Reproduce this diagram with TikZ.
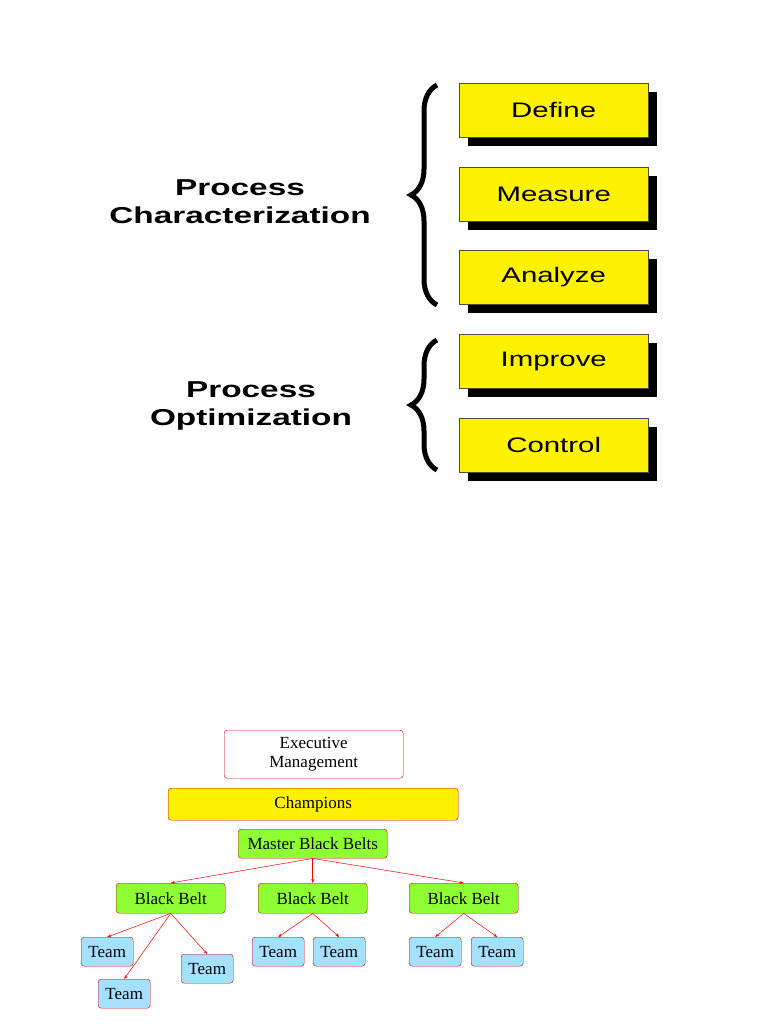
\documentclass[tikz,border=0pt]{standalone}
\usepackage{fontspec}
\setmainfont{Liberation Serif}
\newfontfamily\arialfont{Liberation Sans}
\usetikzlibrary{decorations.pathreplacing,arrows.meta}
\begin{document}
\begin{tikzpicture}[x=1pt,y=-1pt,
  phase/.style={draw=black!70,fill=yellow,minimum width=189pt,minimum height=54pt,anchor=north west,inner sep=0pt},
  title/.style={font=\arialfont\bfseries\fontsize{23}{28}\selectfont,align=center,xscale=1.45},
  org/.style={draw=red!80!black,rounded corners=3pt,anchor=north west,inner sep=0pt,font=\fontsize{17}{19}\selectfont,align=center},
  team/.style={org,fill=blue!35!cyan!35,minimum width=52pt,minimum height=29pt},
  bb/.style={org,fill=green!55!yellow!80,minimum width=109pt,minimum height=30pt},
  arr/.style={red,-{Stealth[length=4pt,width=3pt]},line width=0.5pt}]
\useasboundingbox (0,0) rectangle (768,1024);
% phases
\foreach \y/\t/\n in {83/Define/d,167/Measure/m,250/Analyze/a,334/Improve/i,418/Control/c}{
  \fill (468,{\y+9}) rectangle (657,{\y+63});
  \node[phase] (\n) at (459,\y) {};
  \node[font=\arialfont\fontsize{21}{24}\selectfont,xscale=1.4] at (\n.center) {\t};
}
\coordinate (b1t) at (437,85); \coordinate (b1b) at (437,305);
\coordinate (b2t) at (437,340); \coordinate (b2b) at (437,470);
\draw[line width=5pt,decorate,decoration={brace,amplitude=26pt,aspect=0.5}] (b1b) -- (b1t);
\draw[line width=5pt,decorate,decoration={brace,amplitude=26pt,aspect=0.5}] (b2b) -- (b2t);
\node[title] (pc) at (240,202) {Process\\Characterization};
\node[title] (po) at (251,406) {Process\\Optimization};
% org chart
\node[org,fill=white,minimum width=179pt,minimum height=48pt] (em) at (224,730) {Executive\\Management};
\node[org,fill=yellow,minimum width=290pt,minimum height=32pt] (ch) at (168,788) {Champions};
\node[bb,minimum width=149pt,minimum height=29pt] (mbb) at (238,829) {Master Black Belts};
\node[bb] (bb1) at (116,883) {Black Belt};
\node[bb] (bb2) at (258,883) {Black Belt};
\node[bb] (bb3) at (409,883) {Black Belt};
\node[team] (t1) at (81,937) {Team};
\node[team] (t2) at (98,979) {Team};
\node[team] (t3) at (181,954) {Team};
\node[team] (t4) at (252,937) {Team};
\node[team] (t5) at (313,937) {Team};
\node[team] (t6) at (409,937) {Team};
\node[team] (t7) at (471,937) {Team};
\foreach \b in {bb1,bb2,bb3} \draw[arr] (mbb.south) -- (\b.north);
\foreach \t in {t1,t2,t3} \draw[arr] (bb1.south) -- (\t.north);
\foreach \t in {t4,t5} \draw[arr] (bb2.south) -- (\t.north);
\foreach \t in {t6,t7} \draw[arr] (bb3.south) -- (\t.north);
\end{tikzpicture}
\end{document}
